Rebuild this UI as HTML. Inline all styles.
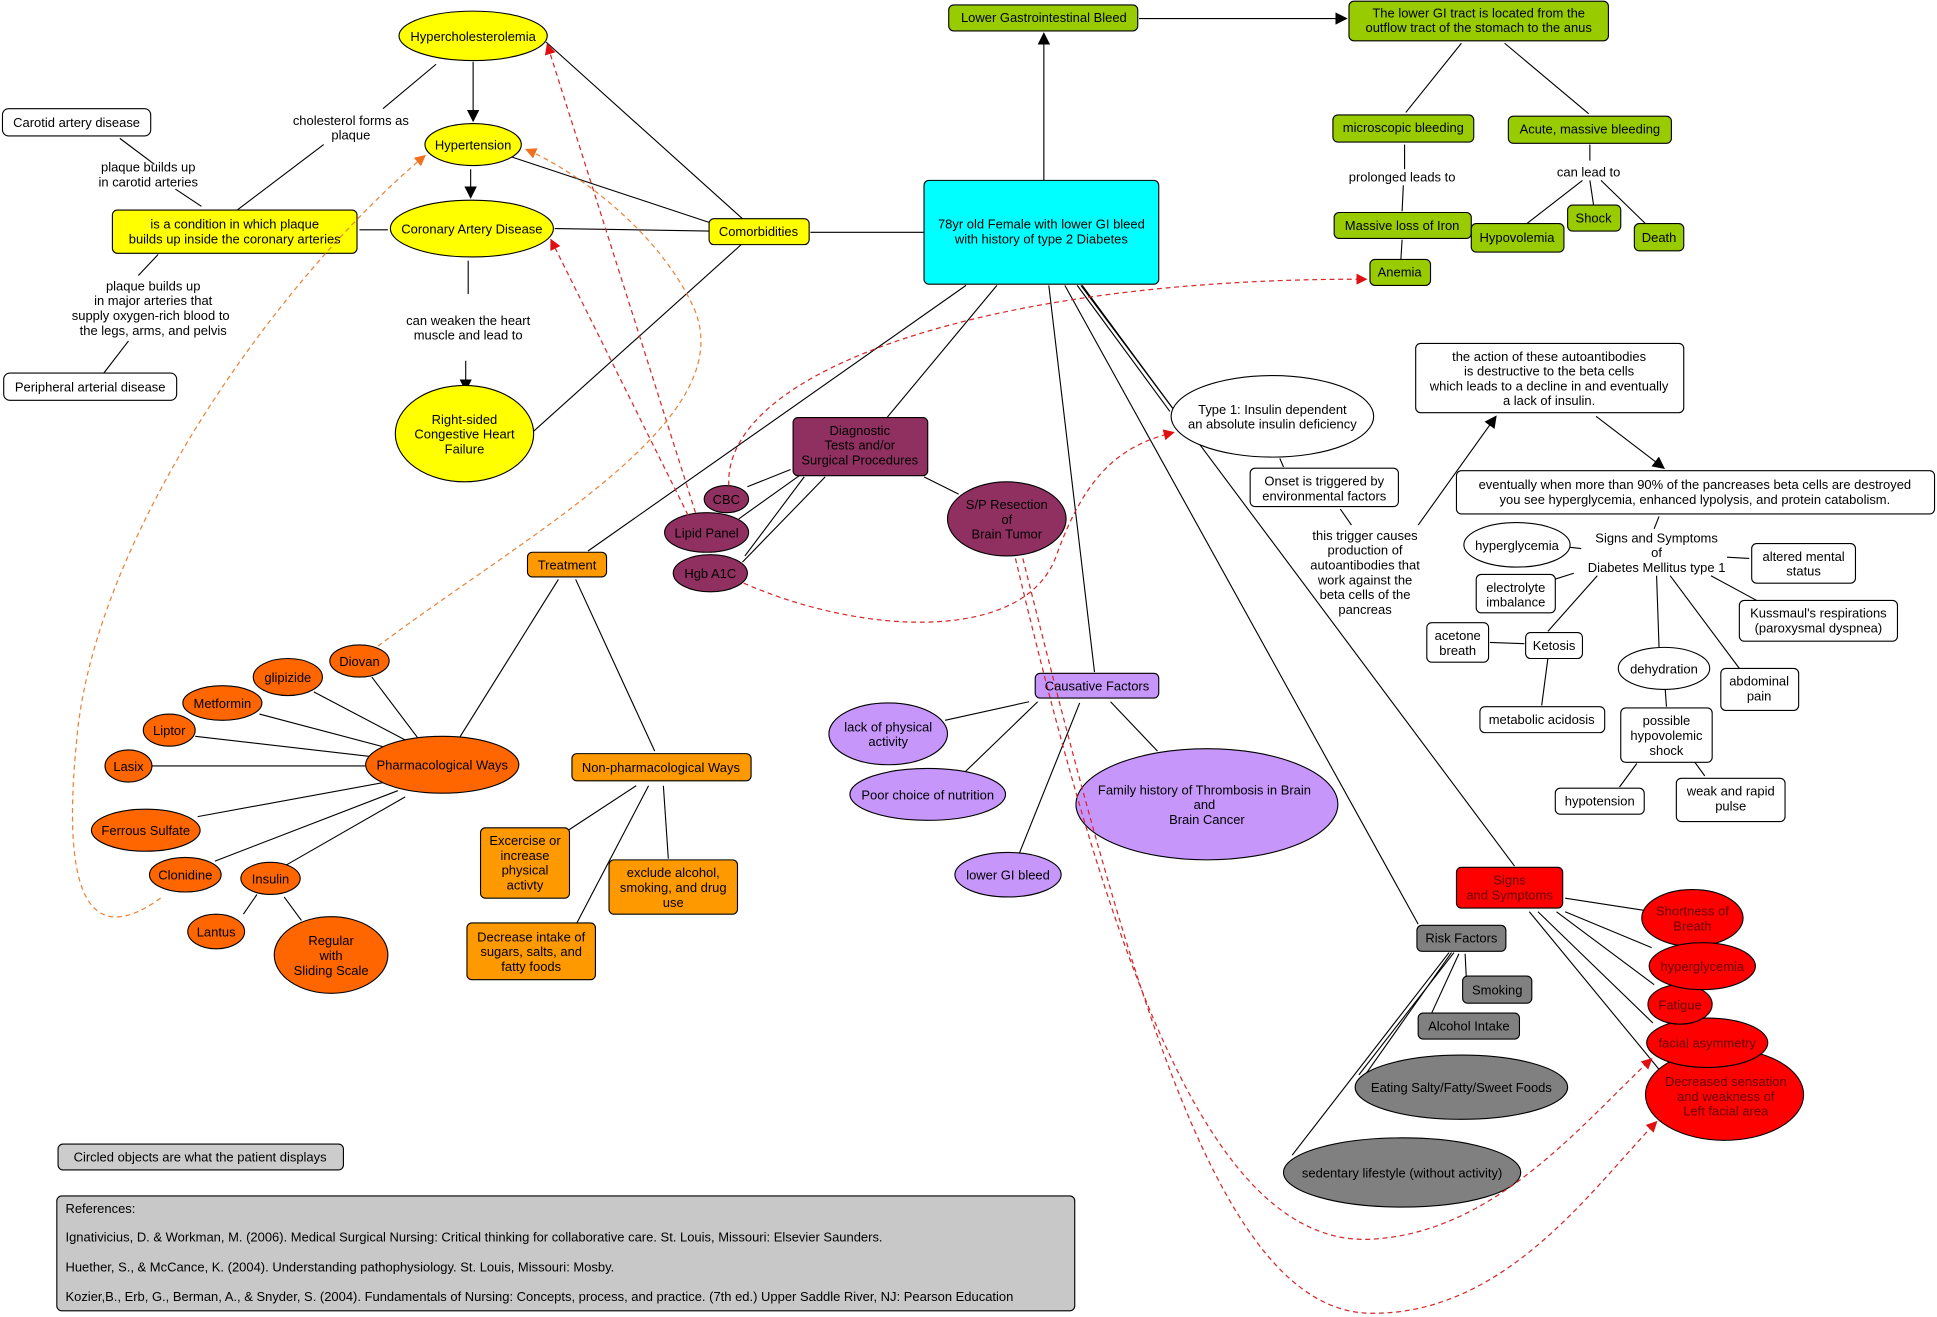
<!DOCTYPE html>
<html><head><meta charset="utf-8"><style>
html,body{margin:0;padding:0;background:#fff;}
svg{display:block;}
text{font-family:"Liberation Sans",sans-serif;font-size:10.5px;fill:#000;}
.n{stroke:#000;stroke-width:0.9;}
.l{stroke:#000;stroke-width:0.9;fill:none;}
.dr{stroke:#d42a2a;stroke-width:1;fill:none;stroke-dasharray:4,3;}
.do{stroke:#e8843a;stroke-width:1;fill:none;stroke-dasharray:4,3;}
</style></head><body>
<svg width="1937" height="1317" viewBox="0 0 1568 1066" preserveAspectRatio="none" xmlns="http://www.w3.org/2000/svg">
<defs>
<marker id="ab" markerWidth="10" markerHeight="10" refX="9" refY="5" orient="auto" markerUnits="userSpaceOnUse"><path d="M0,0 L10,5 L0,10 z" fill="#000"/></marker>
<marker id="ar" markerWidth="9" markerHeight="9" refX="8" refY="4.5" orient="auto" markerUnits="userSpaceOnUse"><path d="M0,0 L9,4.5 L0,9 z" fill="#e01010"/></marker>
<marker id="ao" markerWidth="9" markerHeight="9" refX="8" refY="4.5" orient="auto" markerUnits="userSpaceOnUse"><path d="M0,0 L9,4.5 L0,9 z" fill="#f07020"/></marker>
</defs>

<!-- solid connectors -->
<g class="l">
<line x1="383" y1="50" x2="383" y2="98" marker-end="url(#ab)"/>
<line x1="381" y1="137" x2="381" y2="160" marker-end="url(#ab)"/>
<line x1="379" y1="211" x2="379" y2="238"/>
<line x1="377" y1="292" x2="377" y2="316" marker-end="url(#ab)"/>
<line x1="353" y1="52" x2="310" y2="88"/><line x1="262" y1="117" x2="192" y2="170"/>
<line x1="97" y1="112" x2="125" y2="133"/><line x1="142" y1="153" x2="163" y2="167"/>
<line x1="128" y1="206" x2="112" y2="223"/><line x1="104" y1="276" x2="84" y2="302"/>
<line x1="291" y1="186" x2="314" y2="186"/>
<line x1="449" y1="185" x2="574" y2="187"/>
<line x1="414" y1="127" x2="574" y2="180"/>
<line x1="442" y1="34" x2="601" y2="177"/>
<line x1="600" y1="198" x2="432" y2="349"/>
<line x1="656" y1="188" x2="748" y2="188"/>
<line x1="845" y1="146" x2="845" y2="27" marker-end="url(#ab)"/>
<line x1="922" y1="15" x2="1090" y2="15" marker-end="url(#ab)"/>
<line x1="1183" y1="35" x2="1138" y2="91"/><line x1="1218" y1="35" x2="1286" y2="92"/>
<line x1="1137" y1="117" x2="1137" y2="137"/><line x1="1136" y1="150" x2="1135" y2="171"/>
<line x1="1135" y1="194" x2="1134" y2="210"/>
<line x1="1287" y1="117" x2="1287" y2="130"/>
<line x1="1281" y1="146" x2="1236" y2="181"/><line x1="1287" y1="146" x2="1290" y2="166"/><line x1="1296" y1="146" x2="1332" y2="181"/>
<line x1="782" y1="231" x2="476" y2="446"/>
<line x1="807" y1="231" x2="718" y2="338"/>
<line x1="849" y1="231" x2="886" y2="544"/>
<line x1="862" y1="231" x2="1148" y2="748"/>
<line x1="875" y1="231" x2="1226" y2="701"/>
<line x1="872" y1="231" x2="947" y2="333"/><line x1="876" y1="231" x2="949" y2="330"/>
<line x1="1036" y1="371" x2="1039" y2="378"/>
<line x1="1085" y1="412" x2="1094" y2="425"/>
<line x1="1148" y1="425" x2="1211" y2="337" marker-end="url(#ab)"/>
<line x1="1292" y1="337" x2="1347" y2="379" marker-end="url(#ab)"/>
<line x1="1343" y1="418" x2="1339" y2="428"/>
<line x1="1271" y1="443" x2="1280" y2="444"/>
<line x1="1258" y1="469" x2="1274" y2="464"/>
<line x1="1293" y1="466" x2="1253" y2="511"/>
<line x1="1341" y1="466" x2="1343" y2="524"/>
<line x1="1352" y1="466" x2="1408" y2="541"/>
<line x1="1385" y1="466" x2="1422" y2="486"/>
<line x1="1398" y1="451" x2="1416" y2="452"/>
<line x1="1206" y1="520" x2="1234" y2="521"/>
<line x1="1253" y1="533" x2="1248" y2="571"/>
<line x1="1348" y1="558" x2="1349" y2="572"/>
<line x1="1325" y1="618" x2="1311" y2="637"/><line x1="1372" y1="617" x2="1380" y2="628"/>
<line x1="640" y1="380" x2="605" y2="394"/>
<line x1="647" y1="385" x2="598" y2="420"/>
<line x1="651" y1="386" x2="603" y2="450"/>
<line x1="668" y1="386" x2="601" y2="455"/>
<line x1="748" y1="386" x2="776" y2="400"/>
<line x1="452" y1="469" x2="372" y2="597"/>
<line x1="466" y1="469" x2="530" y2="608"/>
<line x1="338" y1="597" x2="301" y2="548"/>
<line x1="330" y1="600" x2="254" y2="560"/>
<line x1="320" y1="607" x2="210" y2="578"/>
<line x1="315" y1="614" x2="158" y2="596"/>
<line x1="296" y1="620" x2="123" y2="620"/>
<line x1="318" y1="632" x2="160" y2="661"/>
<line x1="322" y1="640" x2="174" y2="697"/>
<line x1="328" y1="645" x2="232" y2="700"/>
<line x1="208" y1="724" x2="197" y2="740"/><line x1="230" y1="726" x2="244" y2="745"/>
<line x1="515" y1="636" x2="460" y2="672"/>
<line x1="525" y1="636" x2="467" y2="747"/>
<line x1="537" y1="636" x2="541" y2="695"/>
<line x1="833" y1="568" x2="765" y2="583"/>
<line x1="840" y1="568" x2="781" y2="625"/>
<line x1="874" y1="569" x2="825" y2="691"/>
<line x1="899" y1="568" x2="937" y2="608"/>
<line x1="1267" y1="727" x2="1332" y2="737"/>
<line x1="1267" y1="738" x2="1337" y2="767"/>
<line x1="1260" y1="738" x2="1339" y2="797"/>
<line x1="1245" y1="738" x2="1338" y2="828"/>
<line x1="1238" y1="738" x2="1345" y2="868"/>
<line x1="1186" y1="772" x2="1187" y2="792"/>
<line x1="1181" y1="772" x2="1158" y2="822"/>
<line x1="1177" y1="771" x2="1100" y2="870"/>
<line x1="1175" y1="771" x2="1103" y2="873"/>
<line x1="1173" y1="771" x2="1046" y2="935"/>
</g>

<!-- nodes -->
<g class="n">
<ellipse cx="383" cy="29" rx="60" ry="20" fill="#ffff00"/>
<ellipse cx="383" cy="117" rx="39" ry="17" fill="#ffff00"/>
<ellipse cx="382" cy="185" rx="66" ry="23" fill="#ffff00"/>
<ellipse cx="376" cy="351" rx="56" ry="39" fill="#ffff00"/>
<rect x="91" y="170" width="198" height="35" rx="4" fill="#ffff00"/>
<rect x="2" y="88" width="120" height="22" rx="5" fill="#fff"/>
<rect x="3" y="302" width="140" height="22" rx="5" fill="#fff"/>
<rect x="574" y="177" width="81" height="21" rx="4" fill="#ffff00"/>
<rect x="748" y="146" width="190" height="84" rx="4" fill="#00ffff"/>
<rect x="768" y="4" width="153" height="21" rx="4" fill="#99cc00"/>
<rect x="1092" y="1" width="210" height="32" rx="4" fill="#99cc00"/>
<rect x="1079" y="93" width="114" height="22" rx="4" fill="#99cc00"/>
<rect x="1221" y="94" width="132" height="22" rx="4" fill="#99cc00"/>
<rect x="1080" y="172" width="111" height="21" rx="4" fill="#99cc00"/>
<rect x="1109" y="210" width="49" height="21" rx="4" fill="#99cc00"/>
<rect x="1191" y="181" width="75" height="23" rx="4" fill="#99cc00"/>
<rect x="1269" y="166" width="43" height="21" rx="4" fill="#99cc00"/>
<rect x="1323" y="181" width="40" height="22" rx="4" fill="#99cc00"/>
<ellipse cx="1030" cy="337" rx="82" ry="33" fill="#fff"/>
<rect x="1012" y="379" width="120" height="31" rx="4" fill="#fff"/>
<rect x="1146" y="278" width="217" height="56" rx="4" fill="#fff"/>
<rect x="1179" y="381" width="387" height="35" rx="4" fill="#fff"/>
<ellipse cx="1228" cy="441" rx="43" ry="18" fill="#fff"/>
<rect x="1195" y="465" width="64" height="31" rx="4" fill="#fff"/>
<rect x="1155" y="504" width="50" height="32" rx="4" fill="#fff"/>
<rect x="1235" y="512" width="46" height="21" rx="4" fill="#fff"/>
<rect x="1198" y="572" width="101" height="21" rx="4" fill="#fff"/>
<ellipse cx="1347" cy="541" rx="37" ry="17" fill="#fff"/>
<rect x="1312" y="573" width="74" height="44" rx="4" fill="#fff"/>
<rect x="1259" y="638" width="72" height="21" rx="4" fill="#fff"/>
<rect x="1357" y="630" width="88" height="35" rx="4" fill="#fff"/>
<rect x="1418" y="440" width="84" height="32" rx="4" fill="#fff"/>
<rect x="1408" y="486" width="128" height="33" rx="4" fill="#fff"/>
<rect x="1393" y="541" width="63" height="34" rx="4" fill="#fff"/>
<rect x="642" y="338" width="109" height="47" rx="4" fill="#903060"/>
<ellipse cx="588" cy="404" rx="18" ry="11" fill="#903060"/>
<ellipse cx="572" cy="431" rx="34" ry="16" fill="#903060"/>
<ellipse cx="575" cy="464" rx="30" ry="15" fill="#903060"/>
<ellipse cx="815" cy="420" rx="48" ry="30" fill="#903060"/>
<rect x="427" y="447" width="64" height="20" rx="4" fill="#ff9900"/>
<rect x="463" y="610" width="145" height="22" rx="4" fill="#ff9900"/>
<rect x="389" y="670" width="72" height="57" rx="4" fill="#ff9900"/>
<rect x="493" y="696" width="104" height="44" rx="4" fill="#ff9900"/>
<rect x="378" y="747" width="104" height="46" rx="4" fill="#ff9900"/>
<ellipse cx="358" cy="619" rx="62" ry="23" fill="#ff6600"/>
<ellipse cx="291" cy="535" rx="24" ry="13" fill="#ff6600"/>
<ellipse cx="233" cy="548" rx="28" ry="15" fill="#ff6600"/>
<ellipse cx="180" cy="569" rx="32" ry="14" fill="#ff6600"/>
<ellipse cx="137" cy="591" rx="21" ry="13" fill="#ff6600"/>
<ellipse cx="104" cy="620" rx="19" ry="13" fill="#ff6600"/>
<ellipse cx="118" cy="672" rx="44" ry="17" fill="#ff6600"/>
<ellipse cx="150" cy="708" rx="29" ry="14" fill="#ff6600"/>
<ellipse cx="219" cy="711" rx="24" ry="13" fill="#ff6600"/>
<ellipse cx="175" cy="754" rx="23" ry="14" fill="#ff6600"/>
<ellipse cx="268" cy="773" rx="46" ry="31" fill="#ff6600"/>
<rect x="838" y="545" width="100" height="20" rx="4" fill="#c696fb"/>
<ellipse cx="719" cy="594" rx="48" ry="25" fill="#c696fb"/>
<ellipse cx="751" cy="643" rx="63" ry="21" fill="#c696fb"/>
<ellipse cx="977" cy="651" rx="106" ry="45" fill="#c696fb"/>
<ellipse cx="816" cy="708" rx="43" ry="18" fill="#c696fb"/>
<rect x="1179" y="702" width="86" height="33" rx="4" fill="#ff0000"/>
<ellipse cx="1396" cy="886" rx="64" ry="37" fill="#ff0000"/>
<ellipse cx="1382" cy="844" rx="49" ry="20" fill="#ff0000"/>
<ellipse cx="1360" cy="813" rx="26" ry="16" fill="#ff0000"/>
<ellipse cx="1370" cy="743" rx="41" ry="23" fill="#ff0000"/>
<ellipse cx="1378" cy="782" rx="43" ry="19" fill="#ff0000"/>
<rect x="1147" y="749" width="72" height="21" rx="4" fill="#808080"/>
<rect x="1184" y="790" width="56" height="22" rx="4" fill="#808080"/>
<rect x="1148" y="820" width="82" height="21" rx="4" fill="#808080"/>
<ellipse cx="1183" cy="880" rx="86" ry="26" fill="#808080"/>
<ellipse cx="1135" cy="949" rx="96" ry="28" fill="#808080"/>
<rect x="47" y="926" width="231" height="21" rx="4" fill="#cccccc"/>
<rect x="46" y="968" width="824" height="93" rx="4" fill="#c8c8c8"/>
</g>

<!-- dashed connectors -->
<path class="dr" d="M590,393 C 585,300 800,225 1106,226" marker-end="url(#ar)"/>
<path class="dr" d="M563,415 L443,36" marker-end="url(#ar)"/>
<path class="dr" d="M557,417 L446,194" marker-end="url(#ar)"/>
<path class="dr" d="M602,472 C 700,515 830,520 855,450 C 880,380 910,360 950,350" marker-end="url(#ar)"/>
<path class="dr" d="M822,452 C 900,780 980,1010 1110,1003 C 1210,998 1280,910 1337,857" marker-end="url(#ar)"/>
<path class="dr" d="M828,452 C 920,820 990,1062 1110,1063 C 1220,1064 1290,960 1341,908" marker-end="url(#ar)"/>
<path class="do" d="M130,727 C 70,770 50,720 62,600 C 75,440 220,230 344,126" marker-end="url(#ao)"/>
<path class="do" d="M306,523 C 430,430 600,340 562,250 C 535,190 470,140 426,121" marker-end="url(#ao)"/>

<!-- text -->
<g text-anchor="middle">
<text x="383" y="33">Hypercholesterolemia</text>
<text x="383" y="121">Hypertension</text>
<text x="382" y="189">Coronary Artery Disease</text>
<text x="376" y="343">Right-sided</text><text x="376" y="355">Congestive Heart</text><text x="376" y="367">Failure</text>
<text x="190" y="185">is a condition in which plaque</text><text x="190" y="197">builds up inside the coronary arteries</text>
<text x="62" y="103">Carotid artery disease</text>
<text x="73" y="317">Peripheral arterial disease</text>
<text x="284" y="101">cholesterol forms as</text><text x="284" y="113">plaque</text>
<text x="120" y="139">plaque builds up</text><text x="120" y="151">in carotid arteries</text>
<text x="124" y="235">plaque builds up</text><text x="124" y="247">in major arteries that</text><text x="122" y="259">supply oxygen-rich blood to</text><text x="124" y="271">the legs, arms, and pelvis</text>
<text x="379" y="263">can weaken the heart</text><text x="379" y="275">muscle and lead to</text>
<text x="614" y="191">Comorbidities</text>
<text x="843" y="185">78yr old Female with lower GI bleed</text><text x="843" y="197">with history of type 2 Diabetes</text>
<text x="845" y="18">Lower Gastrointestinal Bleed</text>
<text x="1197" y="14">The lower GI tract is located from the</text><text x="1197" y="26">outflow tract of the stomach to the anus</text>
<text x="1136" y="107">microscopic bleeding</text>
<text x="1287" y="108">Acute, massive bleeding</text>
<text x="1135" y="147">prolonged leads to</text>
<text x="1286" y="143">can lead to</text>
<text x="1135" y="186">Massive loss of Iron</text>
<text x="1133" y="224">Anemia</text>
<text x="1228" y="196">Hypovolemia</text>
<text x="1290" y="180">Shock</text>
<text x="1343" y="196">Death</text>
<text x="1030" y="335">Type 1: Insulin dependent</text><text x="1030" y="347">an absolute insulin deficiency</text>
<text x="1072" y="393">Onset is triggered by</text><text x="1072" y="405">environmental factors</text>
<text x="1105" y="437">this trigger causes</text><text x="1105" y="449">production of</text><text x="1105" y="461">autoantibodies that</text><text x="1105" y="473">work against  the</text><text x="1105" y="485">beta cells of the</text><text x="1105" y="497">pancreas</text>
<text x="1254" y="292">the action of these autoantibodies</text><text x="1254" y="304">is destructive to the beta cells</text><text x="1254" y="316">which leads to a decline in and eventually</text><text x="1254" y="328">a lack of insulin.</text>
<text x="1372" y="396">eventually when more than 90% of the pancreases beta cells are destroyed</text><text x="1372" y="408">you see hyperglycemia, enhanced lypolysis, and protein catabolism.</text>
<text x="1341" y="439">Signs and Symptoms</text><text x="1341" y="451">of</text><text x="1341" y="463">Diabetes Mellitus type 1</text>
<text x="1228" y="445">hyperglycemia</text>
<text x="1227" y="479">electrolyte</text><text x="1227" y="491">imbalance</text>
<text x="1180" y="518">acetone</text><text x="1180" y="530">breath</text>
<text x="1258" y="526">Ketosis</text>
<text x="1248" y="586">metabolic acidosis</text>
<text x="1347" y="545">dehydration</text>
<text x="1349" y="587">possible</text><text x="1349" y="599">hypovolemic</text><text x="1349" y="611">shock</text>
<text x="1295" y="652">hypotension</text>
<text x="1401" y="644">weak and rapid</text><text x="1401" y="656">pulse</text>
<text x="1460" y="454">altered mental</text><text x="1460" y="466">status</text>
<text x="1472" y="500">Kussmaul's respirations</text><text x="1472" y="512">(paroxysmal dyspnea)</text>
<text x="1424" y="555">abdominal</text><text x="1424" y="567">pain</text>
<text x="696" y="352">Diagnostic</text><text x="696" y="364">Tests and/or</text><text x="696" y="376">Surgical Procedures</text>
<text x="588" y="408">CBC</text>
<text x="572" y="435">Lipid Panel</text>
<text x="575" y="468">Hgb A1C</text>
<text x="815" y="412">S/P Resection</text><text x="815" y="424">of</text><text x="815" y="436">Brain Tumor</text>
<text x="459" y="461">Treatment</text>
<text x="535" y="625">Non-pharmacological Ways</text>
<text x="425" y="684">Excercise or</text><text x="425" y="696">increase</text><text x="425" y="708">physical</text><text x="425" y="720">activty</text>
<text x="545" y="710">exclude alcohol,</text><text x="545" y="722">smoking, and drug</text><text x="545" y="734">use</text>
<text x="430" y="762">Decrease intake of</text><text x="430" y="774">sugars, salts, and</text><text x="430" y="786">fatty foods</text>
<text x="358" y="623">Pharmacological Ways</text>
<text x="291" y="539">Diovan</text>
<text x="233" y="552">glipizide</text>
<text x="180" y="573">Metformin</text>
<text x="137" y="595">Liptor</text>
<text x="104" y="624">Lasix</text>
<text x="118" y="676">Ferrous Sulfate</text>
<text x="150" y="712">Clonidine</text>
<text x="219" y="715">Insulin</text>
<text x="175" y="758">Lantus</text>
<text x="268" y="765">Regular</text><text x="268" y="777">with</text><text x="268" y="789">Sliding Scale</text>
<text x="888" y="559">Causative Factors</text>
<text x="719" y="592">lack of physical</text><text x="719" y="604">activity</text>
<text x="751" y="647">Poor choice of nutrition</text>
<text x="975" y="643">Family history of Thrombosis in Brain</text><text x="975" y="655">and</text><text x="977" y="667">Brain Cancer</text>
<text x="816" y="712">lower GI bleed</text>
<g style="fill:#600">
<text x="1222" y="716" style="fill:#600">Signs</text><text x="1222" y="728" style="fill:#600">and Symptoms</text>
<text x="1370" y="741" style="fill:#600">Shortness of</text><text x="1370" y="753" style="fill:#600">Breath</text>
<text x="1378" y="786" style="fill:#600">hyperglycemia</text>
<text x="1360" y="817" style="fill:#600">Fatigue</text>
<text x="1382" y="848" style="fill:#600">facial asymmetry</text>
<text x="1397" y="879" style="fill:#600">Decreased sensation</text><text x="1397" y="891" style="fill:#600">and weakness of</text><text x="1397" y="903" style="fill:#600">Left facial area</text>
</g>
<text x="1183" y="763">Risk Factors</text>
<text x="1212" y="805">Smoking</text>
<text x="1189" y="834">Alcohol Intake</text>
<text x="1183" y="884">Eating Salty/Fatty/Sweet Foods</text>
<text x="1135" y="953">sedentary lifestyle (without activity)</text>
<text x="162" y="940">Circled objects are what the patient displays</text>
</g>
<text x="53" y="982">References:</text>
<text x="53" y="1005">Ignativicius, D. &amp; Workman, M. (2006). Medical Surgical Nursing: Critical thinking for collaborative care. St. Louis, Missouri: Elsevier Saunders.</text>
<text x="53" y="1029">Huether, S., &amp; McCance, K. (2004). Understanding pathophysiology. St. Louis, Missouri: Mosby.</text>
<text x="53" y="1053">Kozier,B., Erb, G., Berman, A., &amp; Snyder, S. (2004). Fundamentals of Nursing: Concepts, process, and practice. (7th ed.) Upper Saddle River, NJ: Pearson Education</text>
</svg>
</body></html>
